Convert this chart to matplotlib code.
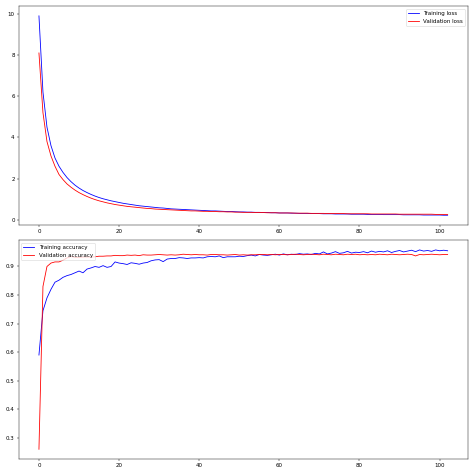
import matplotlib
matplotlib.use('Agg')
import matplotlib.pyplot as plt

train_loss = [9.9, 6.2, 4.5, 3.6, 3.0, 2.6, 2.3, 2.05, 1.85, 1.68, 1.54, 1.42, 1.32, 1.23, 1.15, 1.08,
  1.02, 0.97, 0.92, 0.88, 0.84, 0.80, 0.77, 0.74, 0.71, 0.68, 0.66, 0.64, 0.62, 0.60, 0.58, 0.57,
  0.55, 0.53, 0.52, 0.51, 0.50, 0.49, 0.48, 0.47, 0.46, 0.45, 0.44, 0.43, 0.43, 0.42, 0.41, 0.40,
  0.40, 0.39, 0.38, 0.38, 0.37, 0.37, 0.36, 0.36, 0.35, 0.35, 0.34, 0.34, 0.33, 0.33, 0.33, 0.32,
  0.32, 0.31, 0.31, 0.31, 0.30, 0.30, 0.30, 0.29, 0.29, 0.29, 0.28, 0.28, 0.28, 0.28, 0.27, 0.27,
  0.27, 0.27, 0.26, 0.26, 0.26, 0.26, 0.25, 0.25, 0.25, 0.25, 0.25, 0.24, 0.24, 0.24, 0.24, 0.24,
  0.23, 0.23, 0.23, 0.23, 0.23, 0.22, 0.22]
val_loss = [8.1, 5.2, 3.8, 3.1, 2.6, 2.2, 1.95, 1.74, 1.58, 1.44, 1.32, 1.22, 1.13, 1.05, 0.98, 0.92,
  0.87, 0.82, 0.78, 0.74, 0.71, 0.68, 0.65, 0.63, 0.61, 0.59, 0.57, 0.55, 0.54, 0.52, 0.51, 0.50,
  0.49, 0.48, 0.47, 0.46, 0.45, 0.44, 0.43, 0.43, 0.42, 0.41, 0.41, 0.40, 0.40, 0.39, 0.39, 0.38,
  0.38, 0.37, 0.37, 0.36, 0.36, 0.36, 0.35, 0.35, 0.35, 0.34, 0.34, 0.34, 0.33, 0.33, 0.33, 0.33,
  0.32, 0.32, 0.32, 0.32, 0.31, 0.31, 0.31, 0.31, 0.30, 0.30, 0.30, 0.30, 0.30, 0.29, 0.29, 0.29,
  0.29, 0.29, 0.29, 0.28, 0.28, 0.28, 0.28, 0.28, 0.28, 0.28, 0.27, 0.27, 0.27, 0.27, 0.27, 0.27,
  0.27, 0.27, 0.27, 0.26, 0.26, 0.26, 0.26]
train_acc = [0.59, 0.745, 0.79, 0.82, 0.845, 0.852, 0.862, 0.868, 0.872, 0.878, 0.884, 0.878, 0.891, 0.895, 0.9, 0.897,
  0.903, 0.897, 0.9, 0.916, 0.912, 0.91, 0.907, 0.913, 0.911, 0.908, 0.912, 0.914, 0.92, 0.923, 0.924, 0.917,
  0.926, 0.928, 0.928, 0.931, 0.93, 0.928, 0.93, 0.93, 0.931, 0.93, 0.934, 0.935, 0.934, 0.937, 0.931, 0.934,
  0.934, 0.934, 0.936, 0.935, 0.938, 0.94, 0.937, 0.942, 0.94, 0.939, 0.941, 0.943, 0.94, 0.944, 0.941, 0.943,
  0.942, 0.945, 0.943, 0.944, 0.942, 0.946, 0.944, 0.951, 0.944, 0.947, 0.952, 0.946, 0.948, 0.953, 0.947, 0.95,
  0.949, 0.952, 0.948, 0.954, 0.95, 0.953, 0.951, 0.955, 0.949, 0.953, 0.956, 0.951, 0.954, 0.957, 0.952, 0.958,
  0.954, 0.956, 0.953, 0.958, 0.955, 0.957, 0.955]
val_acc = [0.26, 0.83, 0.9, 0.912, 0.916, 0.916, 0.922, 0.93, 0.935, 0.932, 0.932, 0.933, 0.933, 0.933, 0.934, 0.936,
  0.936, 0.937, 0.937, 0.939, 0.938, 0.938, 0.94, 0.939, 0.94, 0.938, 0.941, 0.94, 0.94, 0.941, 0.942, 0.941,
  0.94, 0.941, 0.94, 0.941, 0.943, 0.942, 0.941, 0.942, 0.941, 0.941, 0.94, 0.942, 0.942, 0.941, 0.941, 0.94,
  0.941, 0.942, 0.94, 0.941, 0.94, 0.941, 0.941, 0.942, 0.942, 0.941, 0.942, 0.941, 0.942, 0.942, 0.941, 0.942,
  0.943, 0.942, 0.941, 0.942, 0.943, 0.942, 0.941, 0.943, 0.942, 0.941, 0.943, 0.942, 0.941, 0.943, 0.942, 0.943,
  0.941, 0.942, 0.941, 0.942, 0.941, 0.943, 0.942, 0.941, 0.943, 0.942, 0.941, 0.942, 0.943, 0.942, 0.937, 0.942,
  0.941, 0.942, 0.943, 0.942, 0.941, 0.942, 0.942]

fig, (ax1, ax2) = plt.subplots(2, 1, figsize=(12, 12), dpi=39.5)

ax1.plot(range(len(train_loss)), train_loss, 'b', label='Training loss', lw=1.5)
ax1.plot(range(len(val_loss)), val_loss, 'r', label='Validation loss', lw=1.5)
ax1.legend()

ax2.plot(range(len(train_acc)), train_acc, 'b', label='Training accuracy', lw=1.5)
ax2.plot(range(len(val_acc)), val_acc, 'r', label='Validation accuracy', lw=1.5)
ax2.legend(loc='upper left')

fig.tight_layout()
fig.savefig('out.png')
